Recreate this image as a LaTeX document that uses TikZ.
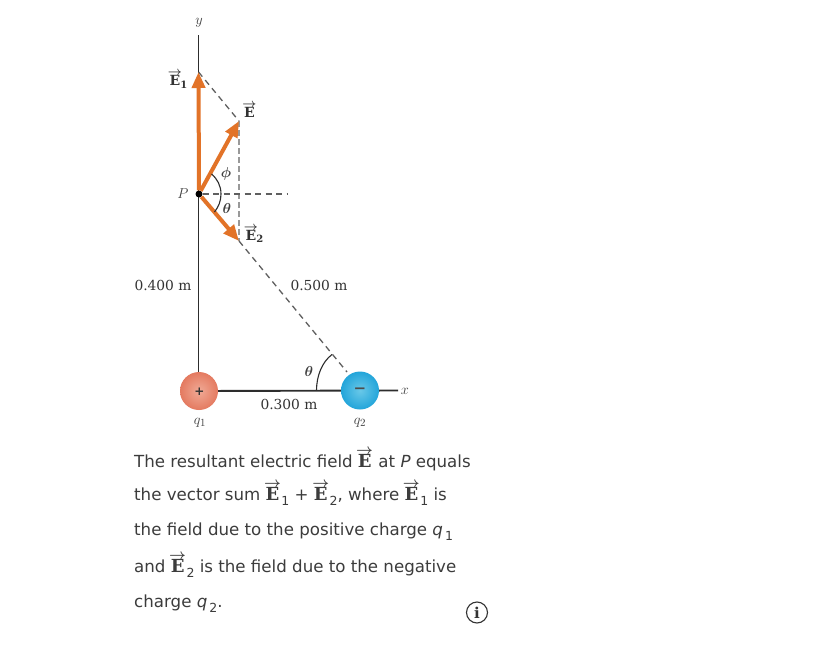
\documentclass[tikz,border=0pt]{standalone}
\usepackage{fontspec}
\usepackage{amsmath}
\usepackage{amssymb}
\setmainfont{DejaVu Sans}
\newfontfamily\labelfont{DejaVu Serif}
\usetikzlibrary{arrows.meta,calc}
\definecolor{txt}{RGB}{60,60,60}
\definecolor{axisc}{RGB}{45,45,45}
\definecolor{dashc}{RGB}{95,95,95}
\definecolor{orng}{RGB}{226,115,40}
\definecolor{ballredout}{RGB}{228,122,96}
\definecolor{ballredin}{RGB}{240,170,150}
\definecolor{ballblueout}{RGB}{35,165,218}
\definecolor{ballbluein}{RGB}{105,200,232}
\newsavebox{\Ebox}
\newcommand{\arrowE}{\sbox{\Ebox}{\labelfont\bfseries E}\leavevmode\rlap{\raisebox{0.7em}{\makebox[\wd\Ebox]{\scalebox{0.85}{\ensuremath{\boldsymbol{\rightarrow}}}}}}\usebox{\Ebox}}
\newcommand{\bigE}{{\fontsize{18}{18}\selectfont\arrowE}}
\newcommand{\subn}[1]{\hspace{2pt}\raisebox{-5.5pt}{\fontsize{12.5}{12.5}\selectfont #1}}
\newcommand{\figsub}[1]{\raisebox{-2.5pt}{\fontsize{10}{10}\selectfont\labelfont\bfseries #1}}
\tikzset{
  x=1pt,y=-1pt,
  axisline/.style={line width=1.9pt,draw=axisc},
  dashline/.style={line width=1.3pt,draw=dashc,dash pattern=on 6pt off 4.5pt},
  lightdash/.style={line width=1.5pt,draw=black!40,dash pattern=on 6pt off 3pt},
  fieldarrow/.style={line width=4pt,draw=orng,-{Triangle[length=16pt,width=13pt,fill=orng]}},
  dimlabel/.style={inner sep=0pt,font=\fontsize{13.8}{14}\selectfont\labelfont,text=txt!85!black},
  symlabel/.style={inner sep=0pt,font=\fontsize{15}{15}\selectfont,text=black!75},
  veclabel/.style={inner sep=0pt,font=\fontsize{14}{14}\selectfont,text=black!80},
  bodytext/.style={anchor=base west,inner sep=0pt,font=\fontsize{16.65}{18}\selectfont,text=txt},
  charge/.style={circle,minimum size=38pt,inner sep=0pt},
  arcline/.style={line width=1.1pt,draw=axisc},
}
\begin{document}
\begin{tikzpicture}
\useasboundingbox (0,0) rectangle (828,656);
\fill[white] (0,0) rectangle (828,656);
% points
\coordinate (ytop) at (198.5,35);
\coordinate (xend) at (398,390.5);
\coordinate (Etipone) at (198.5,72);
\coordinate (Etip) at (239,121);
\coordinate (Etiptwo) at (239,241);
\coordinate (horizend) at (287,194);
\coordinate (dashend) at (347,372);
% axes
\draw[axisline] (ytop) -- (198.5,391);
\draw[axisline] (199,391) -- (xend);
\node[charge,shade,shading=radial,inner color=ballredin,outer color=ballredout] (qone) at (199,391) {};
\node[charge,shade,shading=radial,inner color=ballbluein,outer color=ballblueout] (qtwo) at (360,390.5) {};
\node[circle,fill=black,inner sep=0pt,minimum size=7pt] (P) at (199,194) {};
% dashed
\draw[dashline] (Etipone) -- (Etip);
\draw[lightdash] (Etip) -- (Etiptwo);
\draw[dashline] (P) -- (horizend);
\draw[dashline] (Etiptwo) -- (dashend);
% field arrows
\draw[fieldarrow] (P) -- (Etipone);
\draw[fieldarrow] (P) -- (Etip);
\draw[fieldarrow] (P) -- (Etiptwo);
% angle arcs
\draw[arcline] (211.5,174) .. controls (217.5,179) and (221,186) .. (221,194);
\draw[arcline] (221,194) .. controls (221,201) and (218.5,207) .. (214.5,212);
\draw[arcline] (316.5,390.5) .. controls (316.5,376) and (322,362) .. (332,354.5);
% charge signs
\node[inner sep=0pt,font=\fontsize{12}{12}\selectfont\bfseries,text=black!80] (plus) at (199.5,392) {+};
\node[inner sep=0pt,font=\fontsize{15}{15}\selectfont\bfseries,text=black!70] (minus) at (360,390.5) {\textminus};
% labels
\node[symlabel] (ylabel) at (199,23) {$y$};
\node[symlabel] (xlabel) at (405,391.5) {$x$};
\node[symlabel,font=\fontsize{15}{15}\selectfont] (Plabel) at (183,194) {$P$};
\node[veclabel] (E1label) at (178.5,79.5) {\arrowE\figsub{1}};
\node[veclabel] (Elabel) at (249.5,110.5) {\arrowE};
\node[veclabel] (E2label) at (254.5,234) {\arrowE\figsub{2}};
\node[symlabel] (philabel) at (226,174) {$\boldsymbol{\phi}$};
\node[symlabel] (thlabelone) at (227,208) {$\boldsymbol{\theta}$};
\node[symlabel] (thlabeltwo) at (309,371) {$\boldsymbol{\theta}$};
\node[dimlabel] (d400) at (163,285) {0.400 m};
\node[dimlabel] (d500) at (319,285.5) {0.500 m};
\node[dimlabel] (d300) at (289,404.5) {0.300 m};
\node[symlabel] (q1label) at (200,423) {$q_1$};
\node[symlabel] (q2label) at (360,423) {$q_2$};
% caption
\node[bodytext] (l1) at (134,467) {The resultant electric field\hspace{5pt}\bigE\hspace{7pt}at \textit{P} equals};
\node[bodytext] (l2) at (134,500) {the vector sum \bigE\subn{1} + \bigE\subn{2}, where \bigE\subn{1} is};
\node[bodytext] (l3) at (134,535) {the field due to the positive charge \textit{q}\subn{1}};
\node[bodytext] (l4) at (134,572) {and \bigE\subn{2} is the field due to the negative};
\node[bodytext] (l5) at (134,607) {charge \textit{q}\subn{2}.};
\node[circle,draw=black!80,line width=1.1pt,minimum size=21pt,inner sep=0pt,font=\fontsize{15}{15}\selectfont\labelfont\bfseries,text=black!80] (info) at (477,612.5) {i};
\end{tikzpicture}
\end{document}
